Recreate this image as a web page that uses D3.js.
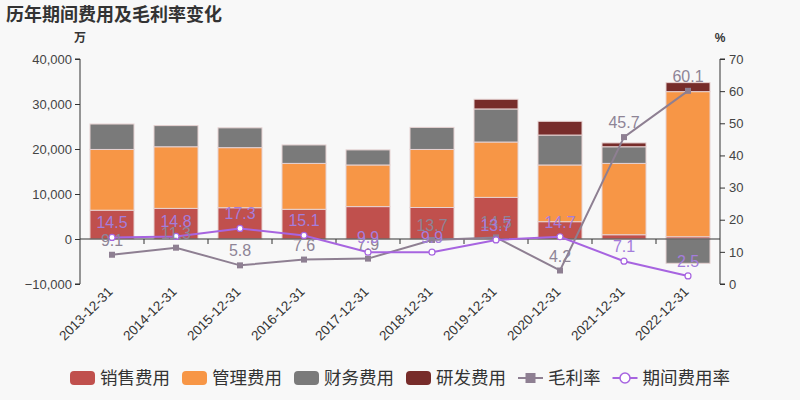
<!DOCTYPE html>
<html><head><meta charset="utf-8">
<script src="https://cdn.jsdelivr.net/npm/d3@7/dist/d3.min.js"></script>
<style>
html,body{margin:0;padding:0;background:#f8f8f8;}
svg{display:block;font-family:"Liberation Sans","Noto Sans CJK SC",sans-serif;}
</style></head>
<body>
<svg id="chart" width="800" height="400"></svg>
<script>
const categories = ["2013-12-31","2014-12-31","2015-12-31","2016-12-31","2017-12-31","2018-12-31","2019-12-31","2020-12-31","2021-12-31","2022-12-31"];
const sales   = [6400, 6800, 6950, 6600, 7200, 7000, 9250, 3850, 950, 500];
const manage  = [13500, 13700, 13350, 10200, 9250, 12900, 12300, 12600, 15850, 32250];
const finance = [5650, 4700, 4400, 4100, 3350, 4900, 7350, 6650, 3700, -5400];
const rnd     = [0, 0, 0, 0, 0, 0, 2150, 3050, 850, 2000];
const grossMargin = [9.1, 11.3, 5.8, 7.6, 7.9, 13.7, 14.5, 4.2, 45.7, 60.1];
const expenseRate = [14.5, 14.8, 17.3, 15.1, 9.9, 9.9, 13.7, 14.7, 7.1, 2.5];
const leftTicks = [-10000, 0, 10000, 20000, 30000, 40000];
const rightTicks = [0, 10, 20, 30, 40, 50, 60, 70];

const barSeries = [
  {name:"销售费用", values:sales, color:"#c0504d"},
  {name:"管理费用", values:manage, color:"#f79646"},
  {name:"财务费用", values:finance, color:"#7a7a7a"},
  {name:"研发费用", values:rnd, color:"#772c2a"}
];
const lineSeries = [
  {name:"毛利率", values:grossMargin, color:"#8e7f92", label:"#8e8496", marker:"rect"},
  {name:"期间费用率", values:expenseRate, color:"#a764e0", label:"#a47ddc", marker:"circle"}
];

const svg = d3.select("#chart");
const L = 80, R = 720, T = 59, B = 284;

const x = d3.scaleBand().domain(categories).range([L, R]).paddingInner(0.3125).paddingOuter(0.15625);
const yL = d3.scaleLinear().domain([-10000, 40000]).range([B, T]);
const yR = d3.scaleLinear().domain([0, 70]).range([B, T]);

// title
svg.append("text").attr("x", 6).attr("y", 21).attr("font-size", 18).attr("font-weight", "bold")
  .attr("fill", "#333").text("历年期间费用及毛利率变化");

// axis names
svg.append("text").attr("x", 80).attr("y", 42).attr("text-anchor", "middle").attr("font-size", 12)
  .attr("font-weight", "bold").attr("fill", "#333").text("万");
svg.append("text").attr("x", 720).attr("y", 42).attr("text-anchor", "middle").attr("font-size", 12)
  .attr("font-weight", "bold").attr("fill", "#333").text("%");

// bars (stacked with positive/negative separation)
const posBase = categories.map(() => 0), negBase = categories.map(() => 0);
const barG = svg.append("g");
barSeries.forEach(s => {
  s.values.forEach((v, i) => {
    if (v === 0) return;
    let y0, y1;
    if (v > 0) { y0 = posBase[i]; y1 = y0 + v; posBase[i] = y1; }
    else { y0 = negBase[i]; y1 = y0 + v; negBase[i] = y1; }
    barG.append("rect")
      .attr("x", x(categories[i]))
      .attr("width", x.bandwidth())
      .attr("y", yL(Math.max(y0, y1)))
      .attr("height", Math.abs(yL(y0) - yL(y1)))
      .attr("fill", s.color)
      .attr("stroke", "#e6d2d2").attr("stroke-width", 1);
  });
});

// left axis
const axL = svg.append("g").attr("transform", `translate(${L},0)`)
  .call(d3.axisLeft(yL).tickValues(leftTicks).tickSize(5).tickPadding(3)
    .tickFormat(d => d3.format(",")(d).replace("-", "−")));
axL.select(".domain").attr("stroke", "#333").attr("d", `M-5,${B}H0V${T}H-5`);
axL.selectAll(".tick line").attr("stroke", "#333");
axL.selectAll("text").attr("font-size", 13).attr("fill", "#444").attr("font-family", "Liberation Sans, sans-serif");

// right axis
const axR = svg.append("g").attr("transform", `translate(${R},0)`)
  .call(d3.axisRight(yR).tickValues(rightTicks).tickSize(5).tickPadding(4));
axR.select(".domain").attr("stroke", "#333").attr("d", `M5,${B}H0V${T}H5`);
axR.selectAll(".tick line").attr("stroke", "#333");
axR.selectAll("text").attr("font-size", 13).attr("fill", "#444").attr("font-family", "Liberation Sans, sans-serif");

// x axis at zero
const y0px = yL(0);
const step = x.step();
const xg = svg.append("g");
xg.append("line").attr("x1", L).attr("x2", R).attr("y1", y0px).attr("y2", y0px).attr("stroke", "#333");
categories.forEach((c, i) => {
  const bx = L + i * step;
  if (i > 0) xg.append("line").attr("x1", bx).attr("x2", bx).attr("y1", y0px).attr("y2", y0px + 5).attr("stroke", "#333");
  const cx = x(c) + x.bandwidth() / 2;
  xg.append("text").attr("transform", `translate(${cx - 1},290) rotate(-45)`)
    .attr("text-anchor", "end").attr("dominant-baseline", "middle")
    .attr("font-size", 13.5).attr("fill", "#333").text(c);
});

// lines
const cxOf = i => x(categories[i]) + x.bandwidth() / 2;
lineSeries.forEach(s => {
  const line = d3.line().x((d, i) => cxOf(i)).y(d => yR(d));
  svg.append("path").datum(s.values).attr("d", line).attr("fill", "none")
    .attr("stroke", s.color).attr("stroke-width", 2);
});
lineSeries.forEach(s => {
  s.values.forEach((v, i) => {
    if (s.marker === "rect") {
      svg.append("rect").attr("x", cxOf(i) - 3).attr("y", yR(v) - 3).attr("width", 6).attr("height", 6)
        .attr("fill", s.color);
    } else {
      svg.append("circle").attr("cx", cxOf(i)).attr("cy", yR(v)).attr("r", 3)
        .attr("fill", "#fff").attr("stroke", s.color).attr("stroke-width", 1.2);
    }
  });
});
lineSeries.forEach(s => {
  s.values.forEach((v, i) => {
    svg.append("text").attr("x", cxOf(i)).attr("y", yR(v) - 9).attr("text-anchor", "middle")
      .attr("font-size", 16).attr("fill", s.label).text(d3.format(".1f")(v));
  });
});

// legend
const lg = svg.append("g");
const items = [...barSeries.map(s => ({name:s.name, color:s.color, type:"bar"})),
               ...lineSeries.map(s => ({name:s.name, color:s.color, type:s.marker}))];
let lx = 0; const ly = 378;
items.forEach((it, k) => {
  if (it.type === "bar") {
    lg.append("rect").attr("x", lx).attr("y", ly - 7).attr("width", 25).attr("height", 14).attr("rx", 4)
      .attr("fill", it.color);
  } else {
    lg.append("line").attr("x1", lx).attr("x2", lx + 25).attr("y1", ly).attr("y2", ly)
      .attr("stroke", it.color).attr("stroke-width", 2);
    if (it.type === "rect") {
      lg.append("rect").attr("x", lx + 7.5).attr("y", ly - 5).attr("width", 10).attr("height", 10).attr("fill", it.color);
    } else {
      lg.append("circle").attr("cx", lx + 12.5).attr("cy", ly).attr("r", 5).attr("fill", "#fff")
        .attr("stroke", it.color).attr("stroke-width", 1.5);
    }
  }
  const t = lg.append("text").attr("x", lx + 30).attr("y", ly).attr("dominant-baseline", "central")
    .attr("font-size", 17.5).attr("fill", "#333").text(it.name);
  lx += 30 + t.node().getComputedTextLength() + (k < items.length - 1 ? 12 : 0);
});
lg.attr("transform", `translate(${400 - lx / 2},0)`);
</script>
</body></html>
